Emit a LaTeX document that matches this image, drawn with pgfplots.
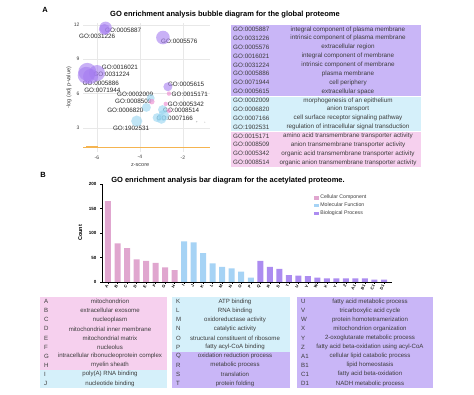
\documentclass[border=0pt]{standalone}
\usepackage{fontspec}
\setmainfont{Liberation Sans}
\usepackage{pgfplots}
\pgfplotsset{compat=1.18}
\usepackage{pgfplotstable}
\definecolor{tP}{RGB}{201,182,247}
\definecolor{tC}{RGB}{213,240,250}
\definecolor{tK}{RGB}{246,208,238}
\definecolor{barK}{RGB}{224,166,207}
\definecolor{barC}{RGB}{166,211,245}
\definecolor{barP}{RGB}{172,140,240}
\definecolor{bubP}{RGB}{165,125,240}
\definecolor{bubC}{RGB}{150,212,240}
\definecolor{bubK}{RGB}{238,150,212}
\definecolor{orl}{RGB}{245,180,80}
\definecolor{txt}{RGB}{60,60,60}
\newcommand\tabfont{\fontsize{6.3}{7}\selectfont}
\newcommand\tabBfont{\fontsize{6.1}{7}\selectfont}
\newcommand\lblfont{\fontsize{6.3}{7}\selectfont}
\pgfplotstableread{
x y r
-6.45 7.9 9
-6.50 7.6 8.5
-6.30 7.5 7.5
-6.00 7.8 8
-5.60 11.75 6.2
-5.65 11.6 5.6
-2.93 10.9 6.8
-2.70 6.6 4.5
}\bubP
\pgfplotstableread{
x y r
-4.15 3.6 5.6
-3.70 4.8 4.5
-3.50 5.6 4
-3.20 3.9 4.5
-2.95 4.6 4.5
-3.00 3.8 5
-2.90 4.1 5.6
}\bubC
\pgfplotstableread{
x y r
-3.45 5.3 2.8
-2.65 6.0 2.2
-2.80 5.1 2.2
-2.65 4.5 2.2
}\bubK
\pgfplotstableread{
x y r
-1.36 3.55 0.8
-0.98 3.5 0.6
}\bubG
\pgfplotsset{bub/.style={scatter, only marks, mark=*,
  scatter/use mapped color={draw=#1, draw opacity=0, line width=0pt, fill=#1},
  visualization depends on={\thisrow{r}\as\rad},
  scatter/@pre marker code/.append style={/tikz/mark size=\rad}}}
\begin{document}
\begin{tikzpicture}
\useasboundingbox (0,0) rectangle (474pt,395pt);
% ---------- Panel A ----------
\node[font=\bfseries\fontsize{7.5}{9}\selectfont] at (45pt,385pt) {A};
\node[font=\bfseries\fontsize{7.5}{9}\selectfont] at (225pt,380pt) {GO enrichment analysis bubble diagram for the global proteome};
\begin{axis}[at={(83pt,243pt)}, anchor=south west, scale only axis,
  width=127pt, height=129pt,
  xmin=-6.65, xmax=-0.74, ymin=0.9, ymax=12.17,
  axis line style={draw=none}, grid=major, grid style={gray!18, thin},
  xtick={-6,-4,-2}, ytick={3,6,9,12}, major tick length=0pt,
  /pgf/number format/assume math mode=true,
  tick label style={font=\fontsize{5}{6}\selectfont, text=txt},
  xlabel={z-score}, ylabel={-log (adj p-value)},
  label style={font=\fontsize{5.5}{6}\selectfont, text=txt},
  xlabel style={at={(axis description cs:0.45,-0.10)}, anchor=center},
  ylabel style={at={(axis description cs:-0.11,0.5)}, anchor=center},
  clip=false]
\addplot[orl, thin] coordinates {(-6.65,1.3) (-0.74,1.3)};
\addplot[orl, line width=1.2pt] coordinates {(-6.5,1.38) (-5.95,1.38)};
\addplot[bub=bubP, fill opacity=0.6] table[x=x, y=y]{\bubP};
\addplot[bub=bubC, fill opacity=0.6] table[x=x, y=y]{\bubC};
\addplot[bub=bubK, fill opacity=0.7] table[x=x, y=y]{\bubK};
\addplot[bub=gray!45] table[x=x, y=y]{\bubG};
\begin{scope}[every node/.style={anchor=west, font=\lblfont, text=black!85, inner sep=0pt}]
\node at (axis cs:-5.63,11.57) {GO:0005887};
\node at (axis cs:-6.84,11.0) {GO:0031226};
\node at (axis cs:-3.02,10.54) {GO:0005576};
\node at (axis cs:-5.78,8.27) {GO:0016021};
\node at (axis cs:-6.17,7.72) {GO:0031224};
\node at (axis cs:-6.67,6.9) {GO:0005886};
\node at (axis cs:-6.6,6.32) {GO:0071944};
\node at (axis cs:-2.7,6.8) {GO:0005615};
\node at (axis cs:-5.07,5.94) {GO:0002009};
\node at (axis cs:-2.53,5.94) {GO:0015171};
\node at (axis cs:-5.16,5.3) {GO:0008509};
\node at (axis cs:-2.71,5.1) {GO:0005342};
\node at (axis cs:-5.53,4.57) {GO:0006820};
\node at (axis cs:-2.93,4.57) {GO:0008514};
\node at (axis cs:-3.23,3.84) {GO:0007166};
\node at (axis cs:-5.26,2.97) {GO:1902531};
\end{scope}
\end{axis}
% table A
\fill[tP] (231pt,370pt) rectangle (421pt,299pt);
\fill[tC] (231pt,299pt) rectangle (421pt,263.5pt);
\fill[tK] (231pt,263.5pt) rectangle (421pt,228pt);
\draw[white, line width=0.6pt] (231pt,299pt) -- (421pt,299pt) (231pt,263.5pt) -- (421pt,263.5pt);
\foreach \id/\desc [count=\i from 0] in {GO:0005887/integral component of plasma membrane,
GO:0031226/intrinsic component of plasma membrane,
GO:0005576/extracellular region,
GO:0016021/integral component of membrane,
GO:0031224/intrinsic component of membrane,
GO:0005886/plasma membrane,
GO:0071944/cell periphery,
GO:0005615/extracellular space,
GO:0002009/morphogenesis of an epithelium,
GO:0006820/anion transport,
GO:0007166/cell surface receptor signaling pathway,
GO:1902531/regulation of intracellular signal transduction,
GO:0015171/amino acid transmembrane transporter activity,
GO:0008509/anion transmembrane transporter activity,
GO:0005342/organic acid transmembrane transporter activity,
GO:0008514/organic anion transmembrane transporter activity}{
  \pgfmathsetmacro\yy{370-(\i+0.5)*8.875}
  \node[anchor=west, font=\tabfont, text=txt, inner sep=0pt] at (233pt,\yy pt) {\id};
  \node[font=\tabfont, text=txt, inner sep=0pt] at (348pt,\yy pt) {\desc};
}
% ---------- Panel B ----------
\node[font=\bfseries\fontsize{7.5}{9}\selectfont] at (43pt,220pt) {B};
\node[font=\bfseries\fontsize{7.5}{9}\selectfont] at (228pt,214pt) {GO enrichment analysis bar diagram for the acetylated proteome.};
\begin{axis}[at={(102pt,113pt)}, anchor=south west, scale only axis,
  width=290pt, height=98pt,
  xmin=-0.63, xmax=29.84, ymin=0, ymax=200, enlargelimits=false,
  axis x line=bottom, axis y line=left, axis line style={-, thick},
  tick align=outside, major tick length=2pt, tick style={black, thin},
  ytick={0,50,100,150,200},
  xtick={0,...,29},
  xticklabels={A,B,C,D,E,F,G,H,I,J,K,L,M,N,O,P,Q,R,S,T,U,V,W,X,Y,Z,A1,B1,C1,D1},
  /pgf/number format/assume math mode=true,
  y tick label style={font=\bfseries\fontsize{4.5}{5}\selectfont},
  x tick label style={font=\bfseries\fontsize{4}{5}\selectfont, rotate=60, anchor=east, inner sep=1pt},
  ylabel={Count},
  ylabel style={font=\bfseries\fontsize{5.5}{6}\selectfont, at={(axis description cs:-0.075,0.5)}, anchor=center},
  legend style={at={(0.72,0.93)}, anchor=north west, draw=none, fill=none,
    font=\fontsize{5.2}{5.5}\selectfont, row sep=-1.5pt, text=txt},
  legend cell align=left]
\addplot[ybar, bar width=6pt, bar shift=0pt, fill=barK, draw=none, forget plot] coordinates {
(0,165)(1,79)(2,69)(3,46)(4,43)(5,39)(6,30)(7,24)};
\addplot[ybar, bar width=6pt, bar shift=0pt, fill=barC, draw=none, forget plot] coordinates {
(8,83)(9,81)(10,59)(11,38)(12,31)(13,28)(14,21)(15,9)};
\addplot[ybar, bar width=6pt, bar shift=0pt, fill=barP, draw=none, forget plot] coordinates {
(16,43)(17,31)(18,27)(19,14)(20,13)(21,12)(22,9)(23,7.4)(24,7.4)(25,7.4)(26,7.4)(27,7.4)(28,4.7)(29,4.7)};
\addlegendimage{legend image code/.code={\fill[barK] (0pt,-1.2pt) rectangle (4pt,1.2pt);}}
\addlegendentry{Cellular Component}
\addlegendimage{legend image code/.code={\fill[barC] (0pt,-1.2pt) rectangle (4pt,1.2pt);}}
\addlegendentry{Molecular Function}
\addlegendimage{legend image code/.code={\fill[barP] (0pt,-1.2pt) rectangle (4pt,1.2pt);}}
\addlegendentry{Biological Process}
\end{axis}
% table B
\fill[tK] (40pt,98pt) rectangle (167pt,25.2pt);
\fill[tC] (40pt,25.2pt) rectangle (167pt,7pt);
\fill[tC] (172pt,98pt) rectangle (290pt,43.4pt);
\fill[tP] (172pt,43.4pt) rectangle (290pt,7pt);
\fill[tP] (297pt,98pt) rectangle (433pt,7pt);
\foreach \l/\d [count=\i from 0] in {A/mitochondrion,B/extracellular exosome,C/nucleoplasm,D/mitochondrial inner membrane,E/mitochondrial matrix,F/nucleolus,G/intracellular ribonucleoprotein complex,H/myelin sheath,I/poly(A) RNA binding,J/nucleotide binding}{
  \pgfmathsetmacro\yy{98-(\i+0.5)*9.1}
  \node[anchor=west, font=\tabBfont, text=txt, inner sep=0pt] at (44pt,\yy pt) {\l};
  \node[font=\tabBfont, text=txt, inner sep=0pt] at (110pt,\yy pt) {\d};
}
\foreach \l/\d [count=\i from 0] in {K/ATP binding,L/RNA binding,M/oxidoreductase activity,N/catalytic activity,O/structural constituent of ribosome,P/fatty acyl-CoA binding,Q/oxidation reduction process,R/metabolic process,S/translation,T/protein folding}{
  \pgfmathsetmacro\yy{98-(\i+0.5)*9.1}
  \node[anchor=west, font=\tabBfont, text=txt, inner sep=0pt] at (176pt,\yy pt) {\l};
  \node[font=\tabBfont, text=txt, inner sep=0pt] at (235pt,\yy pt) {\d};
}
\foreach \l/\d [count=\i from 0] in {U/fatty acid metabolic process,V/tricarboxylic acid cycle,W/protein homotetramerization,X/mitochondrion organization,Y/2-oxoglutarate metabolic process,Z/fatty acid beta-oxidation using acyl-CoA,A1/cellular lipid catabolic process,B1/lipid homeostasis,C1/fatty acid beta-oxidation,D1/NADH metabolic process}{
  \pgfmathsetmacro\yy{98-(\i+0.5)*9.1}
  \node[anchor=west, font=\tabBfont, text=txt, inner sep=0pt] at (301pt,\yy pt) {\l};
  \node[font=\tabBfont, text=txt, inner sep=0pt] at (370pt,\yy pt) {\d};
}
\end{tikzpicture}
\end{document}
